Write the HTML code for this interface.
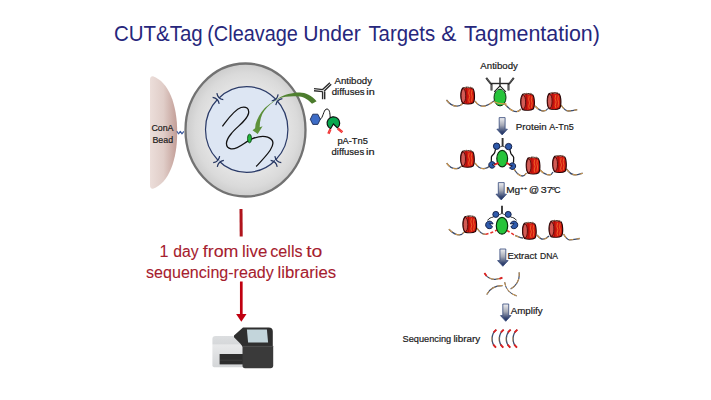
<!DOCTYPE html>
<html><head><meta charset="utf-8">
<style>
html,body{margin:0;padding:0;background:#fff;}
body{width:711px;height:400px;overflow:hidden;position:relative;}
svg{position:absolute;left:0;top:0;}
text{font-family:"Liberation Sans",sans-serif;}
.t{fill:#1a1a1a;stroke:#1a1a1a;stroke-width:0.2;}
.ti{fill:#27277c;}
.rt{fill:#a6202e;stroke:#a6202e;stroke-width:0.08;}
</style></head>
<body>
<svg width="711" height="400" viewBox="0 0 711 400">
<defs>
  <radialGradient id="cellg" cx="51%" cy="50%" r="50%">
    <stop offset="0" stop-color="#f6f6f6"/>
    <stop offset="0.65" stop-color="#e4e4e4"/>
    <stop offset="0.86" stop-color="#dadada"/>
    <stop offset="1" stop-color="#cdcdcd"/>
  </radialGradient>
  <linearGradient id="beadg" x1="0" y1="0" x2="1" y2="0">
    <stop offset="0" stop-color="#ecdeda"/>
    <stop offset="0.5" stop-color="#e0cdc8"/>
    <stop offset="1" stop-color="#c29d96"/>
  </linearGradient>
  <linearGradient id="arrg" x1="0" y1="0" x2="0" y2="1">
    <stop offset="0" stop-color="#f0f0f2"/>
    <stop offset="0.45" stop-color="#a4a8b4"/>
    <stop offset="0.8" stop-color="#3a4a74"/>
    <stop offset="1" stop-color="#1a2c60"/>
  </linearGradient>
  <g id="nuc">
    <path d="M3 1 C6 0 11 0 13 1.5 C15 4 15.3 13 13.5 15.8 C11 17.3 6 17.3 3 16.3 C0.5 13 0.3 4 3 1 Z" fill="#d41810" stroke="#260404" stroke-width="1.15"/>
    <ellipse cx="3.6" cy="8.8" rx="2.3" ry="7" fill="#d25a54" stroke="#3a0606" stroke-width="0.8"/>
    <path d="M6.5 1.3 Q7.6 9 6.5 16.6" stroke="#8a0606" stroke-width="0.6" fill="none"/>
    <path d="M9.6 2.5 L8.9 6 L9.9 9.5 L9 13 L9.7 15.5 M12.2 3 L11.6 6.5 L12.4 10 L11.7 14.5" stroke="#f58030" stroke-width="0.7" fill="none"/>
    <path d="M4 1.3 Q6.5 -1.2 9 0.9 Q11 -1 13 1.4" stroke="#9a8070" stroke-width="1" fill="none"/>
  </g>
  <g id="barr">
    <path d="M0 0 H5.9 V11.6 H8.2 L2.95 17.3 L-2.3 11.6 H0 Z" fill="url(#arrg)" stroke="#34487a" stroke-width="0.8"/>
  </g>
  <g id="pore">
    <path d="M-3 -4.6 Q0.4 0 -2.9 4.6" fill="none" stroke="#24345f" stroke-width="1.2"/>
    <path d="M3 -4.6 Q-0.4 0 2.9 4.6" fill="none" stroke="#24345f" stroke-width="1.2"/>
  </g>
  <linearGradient id="garr" x1="316" y1="100" x2="255" y2="130" gradientUnits="userSpaceOnUse">
    <stop offset="0" stop-color="#4a7a2c"/>
    <stop offset="1" stop-color="#5f943c"/>
  </linearGradient>
</defs>

<!-- Title -->

<!-- Bead -->
<path d="M150 80 Q150 76 153 76.3 C168.5 82 177.2 104 177.2 132.5 C177.2 160 168.8 183 153 188.8 Q150 189.2 150 185 Z" fill="url(#beadg)"/>
<path d="M176.8 131.3 L178.5 133.8 L180.3 131.4 L182 133.8 L183.8 131.3" fill="none" stroke="#3d5a9c" stroke-width="1.15" stroke-linejoin="round"/>

<!-- Cell -->
<ellipse cx="245.5" cy="130" rx="60" ry="66.5" fill="url(#cellg)" stroke="#727272" stroke-width="2.3"/>
<ellipse cx="246.7" cy="129.5" rx="41.2" ry="42.8" fill="#dde6f3" stroke="#2b3b68" stroke-width="1.2"/>
<g fill="#dde6f3">
<circle cx="218" cy="98.5" r="1.4"/><circle cx="277" cy="99.5" r="1.4"/><circle cx="218.5" cy="161.5" r="1.4"/><circle cx="276" cy="161.5" r="1.4"/>
</g>

<!-- chromatin -->
<path d="M222.4 126.3 C228 119 234 110 241 107.5 C246 106 249.5 108.5 248.5 113.5 C247 121 236 127 231 134 C226 140 224 147 231 148.8 C238 150 245 141.5 252 138.8 C258 136.5 266 134.5 271.5 139.5 C277 145 266 156 256.2 166.5" fill="none" stroke="#111" stroke-width="1.3"/>
<ellipse cx="249.5" cy="138.5" rx="2" ry="4.3" fill="#22b83a" stroke="#0a3a10" stroke-width="0.8"/>

<!-- green curved arrow -->
<path d="M316.6 101.3 C312 95.5 305 92.5 299.5 92.6 C292 92.6 284 95 279 97.9 C274 100.6 268 104.8 264.6 108.2 C260.6 112.6 257 118.5 255.6 124 L255.1 128.3 L252.5 130.2 L257.7 134 L262.6 126.3 L259.7 127.2 C259.8 120.5 261.3 114.8 264.3 110.8 C267.8 106.2 273 101.6 279 98.5 C284 96.5 292 96 299.5 96.6 C304 97.2 309 100.2 312 103.8 Z" fill="url(#garr)"/>

<use href="#pore" transform="translate(218 98.5) rotate(-45)"/>
<use href="#pore" transform="translate(277 99.8) rotate(45)"/>
<use href="#pore" transform="translate(218.5 161.5) rotate(45)"/>
<use href="#pore" transform="translate(276 161.5) rotate(-45)"/>
<!-- antibody icon -->
<g stroke="#2c2c2c" stroke-width="1.4" fill="none">
  <path d="M314 88.6 L323 89.6 M314 90.8 L322.6 91.6"/>
  <path d="M322.6 89.6 L329.9 82.7 M324 91.2 L331.2 84.3"/>
  <path d="M322.6 91.5 V99.2 M324.7 91.5 V99.2"/>
</g>
<!-- pA-Tn5 icon -->
<path d="M320 119.5 C323 118 323.5 110.5 326 109.2 C329.5 108 330 113 330.2 117.5" fill="none" stroke="#111" stroke-width="1"/>
<polygon points="310.3,119.3 312.8,114.2 317.8,114.2 320.3,119.3 317.8,124.4 312.8,124.4" fill="#3d6cc6" stroke="#1b2a55" stroke-width="0.9"/>
<path d="M333.4 124 L330.54 128.7 A6.3 6.3 0 1 1 337.45 127.9 Z" fill="#0aa84f" stroke="#101010" stroke-width="1.2"/>
<g stroke="#f03030" stroke-width="2.5">
  <path d="M330.4 129.3 L328.4 133.8"/>
  <path d="M337.8 128.6 L342.4 132.2"/>
</g>
<g stroke="#ffb0b0" stroke-width="0.5" stroke-dasharray="1 1">
  <path d="M330.4 129.6 L328.4 133.8"/>
  <path d="M337.9 128.8 L342.4 132.2"/>
</g>

<!-- red line, text, arrow -->
<line x1="241" y1="209" x2="241.2" y2="236.5" stroke="#b0141c" stroke-width="3"/>
<line x1="241.3" y1="281.5" x2="241.3" y2="315" stroke="#c00010" stroke-width="2.7"/>
<polygon points="236.1,314 246.5,314 241.3,321.8" fill="#c00010"/>

<!-- sequencer -->
<defs><linearGradient id="boxg" x1="0" y1="0" x2="0" y2="1"><stop offset="0" stop-color="#dcdee0"/><stop offset="0.26" stop-color="#d6d8da"/><stop offset="0.28" stop-color="#e8e9ea"/><stop offset="1" stop-color="#d4d6d8"/></linearGradient></defs>
<path d="M212.4 339 Q212.4 336 215.5 336 H243 V367.2 H214.2 Q212.4 367.2 212.4 365.2 Z" fill="url(#boxg)"/>
<rect x="219.6" y="354" width="23.5" height="10.4" fill="#2d2d2d"/>
<path d="M220 360.2 H242" stroke="#4a4a4a" stroke-width="0.6"/>
<path d="M242.5 346 H273.2 V365.5 Q273.2 368.3 270.5 368.3 H245 Q242.5 368.3 242.5 365.5 Z" fill="#3a3a3a"/>
<path d="M234 335.4 L243 327.4 H268.8 Q272.8 327.4 272.8 331.5 V346.4 H242.5 L240 343.2 L234 337.2 Z" fill="#2f2f2f"/>
<path d="M242.5 346.4 H273.2" stroke="#5c5c5c" stroke-width="0.7"/>
<polygon points="246.9,329.5 266.9,329.5 268.1,342.6 248.1,342.6" fill="#c3d5db"/>

<!-- RIGHT PANEL DNA -->
<g fill="none" stroke-width="1.1">
 <path id="d1" d="M446.5 100 C449 103.5 453 106.2 457 106.2 C461 106.2 462 104 463 103 M475 101 C477 104 480 106.2 483 106.2 C488 106.2 491 103 494 101 M504 103 C508 108 512 111.6 516.5 111.6 C519 111.6 520 110 521 109 M535 106 C538 109 540 111 543 111 C545 111 547 110 548 108.5 M561 105 C563 108 565.5 111 568.4 111 C571 111 574 110.5 577.2 109.7" stroke="#3d4d6d" stroke-width="1.3"/>
 <path d="M446.5 100 C449 103.5 453 106.2 457 106.2 C461 106.2 462 104 463 103 M475 101 C477 104 480 106.2 483 106.2 C488 106.2 491 103 494 101 M504 103 C508 108 512 111.6 516.5 111.6 C519 111.6 520 110 521 109 M535 106 C538 109 540 111 543 111 C545 111 547 110 548 108.5 M561 105 C563 108 565.5 111 568.4 111 C571 111 574 110.5 577.2 109.7" stroke="#d49a4a" stroke-width="1.1" stroke-dasharray="4.5 3.5"/>
 <path d="M446.7 163.1 C449 166.5 452 168.7 456.2 168.7 C459 168.7 460.5 167 461.5 166 M475 163 C477 166 480 168.7 483.2 168.7 C487 168.7 490 166 492 164 M513 167 C515 171 518 176 522.4 176 C524 176 525.5 174.5 526.5 173 M540 170 C543 173 546 174.9 549.4 174.9 C551 174.9 552 174 553 172 M566.5 169 C569 172.5 572 174.9 575.2 174.9 C578 174.9 580 174 582.6 173.2" stroke="#3d4d6d" stroke-width="1.3"/>
 <path d="M446.7 163.1 C449 166.5 452 168.7 456.2 168.7 C459 168.7 460.5 167 461.5 166 M475 163 C477 166 480 168.7 483.2 168.7 C487 168.7 490 166 492 164 M513 167 C515 171 518 176 522.4 176 C524 176 525.5 174.5 526.5 173 M540 170 C543 173 546 174.9 549.4 174.9 C551 174.9 552 174 553 172 M566.5 169 C569 172.5 572 174.9 575.2 174.9 C578 174.9 580 174 582.6 173.2" stroke="#d49a4a" stroke-width="1.1" stroke-dasharray="4.5 3.5"/>
 <path d="M448.9 229.2 C452 232.5 455.5 234.9 459.6 234.9 C462 234.9 463 233.5 464 232 M477 228 C479 231.5 482 234.3 485.5 234.3 M515.1 235.4 C518 236.5 520 238 523 238 M537 235 C539 237.5 541 239.2 543 239.2 C545.5 239.2 547 238 549 236 M563.5 234 C565.5 237.5 567.5 239.8 569.6 239.8 C573 239.8 576 239 579.7 238.5" stroke="#3d4d6d" stroke-width="1.3"/>
 <path d="M448.9 229.2 C452 232.5 455.5 234.9 459.6 234.9 C462 234.9 463 233.5 464 232 M477 228 C479 231.5 482 234.3 485.5 234.3 M515.1 235.4 C518 236.5 520 238 523 238 M537 235 C539 237.5 541 239.2 543 239.2 C545.5 239.2 547 238 549 236 M563.5 234 C565.5 237.5 567.5 239.8 569.6 239.8 C573 239.8 576 239 579.7 238.5" stroke="#d49a4a" stroke-width="1.1" stroke-dasharray="4.5 3.5"/>
 <path d="M485.5 234.3 C490 233.5 494 231.5 497 230 M507 230.5 C510 232 513 234.5 515.1 235.4" stroke="#e8302a" stroke-width="1.5" stroke-dasharray="3 2"/>
</g>

<!-- row1 -->
<use href="#nuc" transform="translate(459.8 87)"/>
<use href="#nuc" transform="translate(519.7 93.3)"/>
<use href="#nuc" transform="translate(546.2 92.5)"/>

<g stroke="#2a2a2a" fill="none">
 <path d="M500 77.5 V86" stroke-width="1.4"/>
 <path d="M491 83.5 H509" stroke-width="1.4"/>
 <path d="M491 84 L486.2 77.8" stroke-width="2"/>
 <path d="M509 84 L513.8 77.8" stroke-width="2"/>
 <path d="M491.5 84 V90.5" stroke-width="2"/>
 <path d="M508.5 84 V90.5" stroke-width="2"/>
 <path d="M490.6 83.2 L486.6 78.2 M509.4 83.2 L513.4 78.2 M491.5 85 V90 M508.5 85 V90" stroke="#9a9a9a" stroke-width="0.45"/>
 </g>
<ellipse cx="500" cy="97.5" rx="6" ry="8.4" fill="#26c43a" stroke="#0a300e" stroke-width="1"/>
<path d="M500 86 L494.2 91.8 M500 86 L505.8 91.8" stroke="#222" stroke-width="1.1" fill="none"/>
<path d="M494 101.5 C497 103.5 502 104 506.5 103.8" stroke="#d9a050" stroke-width="1.1" fill="none"/>
<path d="M500 87.5 L496 91.2 M500 87.5 L504 91.2" stroke="#fff" stroke-width="0.5" fill="none"/>
<use href="#barr" transform="translate(499.2 117.6)"/>

<!-- row2 -->
<use href="#nuc" transform="translate(459.6 150.2)"/>
<use href="#nuc" transform="translate(525.2 157)"/>
<use href="#nuc" transform="translate(551.6 155.4)"/>
<g fill="none" stroke="#111" stroke-width="1.25">
 <path d="M495.6 149 L494.6 152.8 C494 154.6 491.8 155.2 491.4 157 L491.3 161.8"/>
 <path d="M509.8 149.4 L510.8 153.2 C511.4 155 513.4 155.8 513.7 157.6 L513.5 162.8"/>
</g>
<path d="M502.6 138 V146.5" stroke="#333" stroke-width="1.9"/>
<path d="M502.6 146 L497.5 148 M502.6 146 L507.8 148.5" stroke="#222" stroke-width="0.7"/>
<ellipse cx="502.2" cy="158.6" rx="5.4" ry="8.3" fill="#26c43a" stroke="#0a300e" stroke-width="1.2"/>
<path d="M494 164.8 L498.5 162.8 M506.5 162.8 L511 165.5" stroke="#e82020" stroke-width="1.9"/>
<g fill="#2f5aab" stroke="#101c44" stroke-width="0.95">
 <circle cx="496.6" cy="146.2" r="3.2"/>
 <circle cx="508.6" cy="146.6" r="3.2"/>
 <path d="M492 164.5 L495.1 163.6 A3.3 3.3 0 1 0 494.9 166.6 Z"/>
 <path d="M512.4 165.8 L509.3 164.9 A3.3 3.3 0 1 1 509.5 167.8 Z"/>
</g>
<use href="#barr" transform="translate(498.3 182.6)"/>

<!-- row3 -->
<use href="#nuc" transform="translate(461.9 215.8)"/>
<use href="#nuc" transform="translate(521.5 222.2)"/>
<use href="#nuc" transform="translate(548 220.3)"/>
<g fill="none" stroke="#111" stroke-width="0.9">
 <path d="M493.4 217 C491 217.5 488.8 218.2 487.6 220.4"/>
 <path d="M510.6 217 C513 217.5 515.2 218.2 516.4 220.4"/>
</g>
<path d="M502 205.8 V213.6" stroke="#222" stroke-width="1.7"/>
<path d="M502 213.4 L497 215.8 M502 213.4 L507 215.8" stroke="#222" stroke-width="0.7"/>
<ellipse cx="502" cy="225.8" rx="5.7" ry="8.4" fill="#26c43a" stroke="#0a300e" stroke-width="1.2"/>
<g fill="#2f5aab" stroke="#101c44" stroke-width="0.95">
 <circle cx="495.8" cy="214.4" r="3"/>
 <circle cx="508.2" cy="214.4" r="3"/>
 <path d="M489.4 223.6 L492.6 227 A3.8 3.8 0 1 1 493.1 223.9 Z"/>
 <path d="M514 223.6 L510.8 227 A3.8 3.8 0 1 0 510.3 223.9 Z"/>
</g>
<use href="#barr" transform="translate(499.9 249)"/>

<!-- fragments -->
<g fill="none">
 <path d="M484.5 273.2 C487 277.5 491.5 279.4 495 279.3 C498 279.2 500.5 278.4 502.2 277.8 M519.1 272.4 C520 279 517 285 510.6 289 M486.8 294.5 C489.5 289 495 285.6 502.5 285.6 M504.7 282.2 C505.5 289 510.5 294 516.6 295.8" stroke="#3d4d6d" stroke-width="1.2"/>
 <path d="M484.5 273.2 C487 277.5 491.5 279.4 495 279.3 C498 279.2 500.5 278.4 502.2 277.8 M519.1 272.4 C520 279 517 285 510.6 289 M486.8 294.5 C489.5 289 495 285.6 502.5 285.6 M504.7 282.2 C505.5 289 510.5 294 516.6 295.8" stroke="#d49a4a" stroke-width="1" stroke-dasharray="5 2.5" stroke-dashoffset="1"/>
 <path d="M484.4 273 L486.6 276 M502.4 277.7 L499.4 278.8" stroke="#e02020" stroke-width="1.8"/>
</g>
<use href="#barr" transform="translate(502.8 304)"/>

<!-- library arcs -->
<g fill="none" stroke-width="1.2">
 <g id="arc1">
  <path d="M496.2 329.8 C491 334 490.5 343 495.8 347.5" stroke="#3d4d6d" stroke-width="1.3"/>
  <path d="M491.7 337 C491.5 339 491.5 340 491.7 341.5" stroke="#d9a050" stroke-width="0.6"/>
  <path d="M496.4 329.6 L493.6 332.4 M496 347.7 L493.3 344.6" stroke="#e02020" stroke-width="1.8"/>
 </g>
 <use href="#arc1" transform="translate(7.3 0)"/>
 <use href="#arc1" transform="translate(14.3 0)"/>
 <use href="#arc1" transform="translate(21 0)"/>
</g>

<text class="ti" x="113.98" y="40.9" font-size="21.2" textLength="88.75" lengthAdjust="spacingAndGlyphs">CUT&amp;Tag</text>
<text class="ti" x="207.26" y="40.9" font-size="21.2" textLength="90.60" lengthAdjust="spacingAndGlyphs">(Cleavage</text>
<text class="ti" x="303.36" y="40.9" font-size="21.2" textLength="57.48" lengthAdjust="spacingAndGlyphs">Under</text>
<text class="ti" x="368.44" y="40.9" font-size="21.2" textLength="66.76" lengthAdjust="spacingAndGlyphs">Targets</text>
<text class="ti" x="441.21" y="40.9" font-size="21.2" textLength="15.12" lengthAdjust="spacingAndGlyphs">&amp;</text>
<text class="ti" x="464.12" y="40.9" font-size="21.2" textLength="135.76" lengthAdjust="spacingAndGlyphs">Tagmentation)</text>
<text class="t" x="151.46" y="130.9" font-size="9.8" textLength="22.05" lengthAdjust="spacingAndGlyphs">ConA</text>
<text class="t" x="152.47" y="142.5" font-size="9.8" textLength="20.58" lengthAdjust="spacingAndGlyphs">Bead</text>
<text class="t" x="334.48" y="83.5" font-size="9.0" textLength="37.54" lengthAdjust="spacingAndGlyphs">Antibody</text>
<text class="t" x="331.69" y="95.4" font-size="9.0" textLength="32.95" lengthAdjust="spacingAndGlyphs">diffuses</text>
<text class="t" x="366.37" y="95.4" font-size="9.0" textLength="8.41" lengthAdjust="spacingAndGlyphs">in</text>
<text class="t" x="337.40" y="144.45" font-size="9.0" textLength="30.49" lengthAdjust="spacingAndGlyphs">pA-Tn5</text>
<text class="t" x="331.60" y="155.25" font-size="9.0" textLength="32.54" lengthAdjust="spacingAndGlyphs">diffuses</text>
<text class="t" x="366.06" y="155.25" font-size="9.0" textLength="8.53" lengthAdjust="spacingAndGlyphs">in</text>
<text class="rt" x="159.49" y="256.8" font-size="15.6" textLength="9.00" lengthAdjust="spacingAndGlyphs">1</text>
<text class="rt" x="173.33" y="256.8" font-size="15.6" textLength="25.41" lengthAdjust="spacingAndGlyphs">day</text>
<text class="rt" x="202.83" y="256.8" font-size="15.6" textLength="35.63" lengthAdjust="spacingAndGlyphs">from</text>
<text class="rt" x="242.06" y="256.8" font-size="15.6" textLength="25.26" lengthAdjust="spacingAndGlyphs">live</text>
<text class="rt" x="270.31" y="256.8" font-size="15.6" textLength="32.26" lengthAdjust="spacingAndGlyphs">cells</text>
<text class="rt" x="306.21" y="256.8" font-size="15.6" textLength="16.20" lengthAdjust="spacingAndGlyphs">to</text>
<text class="rt" x="146.06" y="277.8" font-size="15.6" textLength="127.78" lengthAdjust="spacingAndGlyphs">sequencing-ready</text>
<text class="rt" x="277.57" y="277.8" font-size="15.6" textLength="58.63" lengthAdjust="spacingAndGlyphs">libraries</text>
<text class="t" x="480.38" y="68.8" font-size="9.6" textLength="37.54" lengthAdjust="spacingAndGlyphs">Antibody</text>
<text class="t" x="515.79" y="130.1" font-size="9.6" textLength="30.93" lengthAdjust="spacingAndGlyphs">Protein</text>
<text class="t" x="549.18" y="130.1" font-size="9.6" textLength="24.49" lengthAdjust="spacingAndGlyphs">A-Tn5</text>
<text class="t" x="506.17" y="193" font-size="9.6" textLength="13.98" lengthAdjust="spacingAndGlyphs">Mg</text>
<text class="t" x="520.22" y="190.2" font-size="6" textLength="6.86" lengthAdjust="spacingAndGlyphs">++</text>
<text class="t" x="528.93" y="193" font-size="9.6" textLength="10.12" lengthAdjust="spacingAndGlyphs">@</text>
<text class="t" x="540.70" y="193" font-size="9.6" textLength="11.97" lengthAdjust="spacingAndGlyphs">37</text>
<text class="t" x="551.88" y="189.6" font-size="5.5" textLength="2.94" lengthAdjust="spacingAndGlyphs">o</text>
<text class="t" x="554.17" y="193" font-size="9.6" textLength="6.26" lengthAdjust="spacingAndGlyphs">C</text>
<text class="t" x="507.42" y="259" font-size="9.6" textLength="29.45" lengthAdjust="spacingAndGlyphs">Extract</text>
<text class="t" x="540.00" y="259" font-size="9.6" textLength="18.02" lengthAdjust="spacingAndGlyphs">DNA</text>
<text class="t" x="510.78" y="313.8" font-size="9.6" textLength="31.86" lengthAdjust="spacingAndGlyphs">Amplify</text>
<text class="t" x="402.59" y="342" font-size="9.6" textLength="48.61" lengthAdjust="spacingAndGlyphs">Sequencing</text>
<text class="t" x="453.43" y="342" font-size="9.6" textLength="26.89" lengthAdjust="spacingAndGlyphs">library</text>
</svg>
</body></html>
